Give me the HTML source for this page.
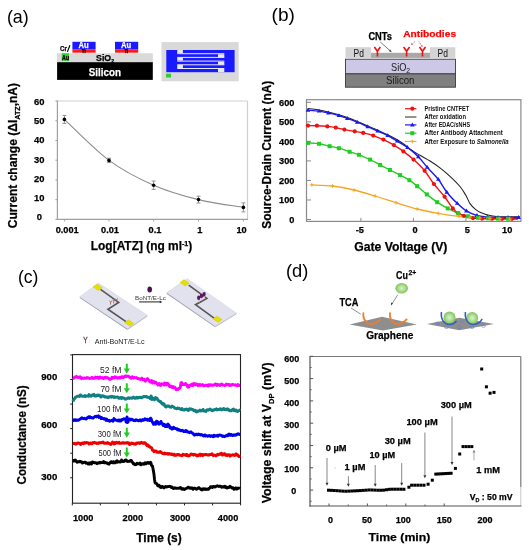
<!DOCTYPE html>
<html><head><meta charset="utf-8"><style>
html,body{margin:0;padding:0;background:#fff;width:529px;height:550px;overflow:hidden;}
svg{display:block;will-change:transform;font-family:"Liberation Sans", sans-serif;}
</style></head><body>
<svg width="529" height="550" viewBox="0 0 529 550" font-family='"Liberation Sans", sans-serif'><text x="6.9" y="23.3" font-size="18.5" fill="#000" text-anchor="start" textLength="21.9" lengthAdjust="spacingAndGlyphs" >(a)</text>
<text x="271.6" y="20.7" font-size="18.5" fill="#000" text-anchor="start" textLength="23.3" lengthAdjust="spacingAndGlyphs" >(b)</text>
<text x="17.9" y="283.4" font-size="18.5" fill="#000" text-anchor="start" textLength="20.5" lengthAdjust="spacingAndGlyphs" >(c)</text>
<text x="286.0" y="276.9" font-size="18.5" fill="#000" text-anchor="start" textLength="22.4" lengthAdjust="spacingAndGlyphs" >(d)</text>
<rect x="57.1" y="62.1" width="95.7" height="17.8" fill="#000" />
<rect x="57.1" y="53.3" width="95.7" height="8.8" fill="#d9d9d9" />
<rect x="61.8" y="53.3" width="7.2" height="7.5" fill="#33cc33" />
<rect x="72.4" y="41.8" width="23.2" height="7.4" fill="#1a1aff" />
<rect x="72.4" y="49.2" width="23.2" height="3.5" fill="#ff1a1a" />
<text x="78.4" y="47.9" font-size="8.2" font-weight="bold" stroke="#fff" stroke-width="0.25" fill="#fff" text-anchor="start" textLength="10.2" lengthAdjust="spacingAndGlyphs" >Au</text>
<text x="81.80000000000001" y="52.9" font-size="4.6" font-weight="bold" stroke="#000" stroke-width="0.25" fill="#000" text-anchor="start" textLength="3.8" lengthAdjust="spacingAndGlyphs" >Ti</text>
<rect x="115.0" y="41.8" width="23.2" height="7.4" fill="#1a1aff" />
<rect x="115.0" y="49.2" width="23.2" height="3.5" fill="#ff1a1a" />
<text x="121.0" y="47.9" font-size="8.2" font-weight="bold" stroke="#fff" stroke-width="0.25" fill="#fff" text-anchor="start" textLength="10.2" lengthAdjust="spacingAndGlyphs" >Au</text>
<text x="124.4" y="52.9" font-size="4.6" font-weight="bold" stroke="#000" stroke-width="0.25" fill="#000" text-anchor="start" textLength="3.8" lengthAdjust="spacingAndGlyphs" >Ti</text>
<text x="60.0" y="50.8" font-size="7.2" font-weight="bold" stroke="#000" stroke-width="0.25" fill="#000" text-anchor="start" textLength="6.9" lengthAdjust="spacingAndGlyphs" >Cr</text>
<line x1="69.9" y1="45.3" x2="67.4" y2="51.9" stroke="#000" stroke-width="1.15" />
<text x="62.1" y="60.0" font-size="7.0" font-weight="bold" stroke="#000" stroke-width="0.25" fill="#000" text-anchor="start" textLength="7.0" lengthAdjust="spacingAndGlyphs" >Au</text>
<text x="96.1" y="61.1" font-size="8.6" font-weight="bold" stroke="#000" stroke-width="0.25" fill="#000" text-anchor="start" textLength="15.0" lengthAdjust="spacingAndGlyphs" >SiO</text>
<text x="111.2" y="62.6" font-size="5.0" font-weight="bold" stroke="#000" stroke-width="0.25" fill="#000" text-anchor="start" >2</text>
<text x="88.7" y="75.6" font-size="11.0" font-weight="bold" stroke="#fff" stroke-width="0.25" fill="#fff" text-anchor="start" textLength="32.2" lengthAdjust="spacingAndGlyphs" >Silicon</text>
<rect x="161.5" y="42.1" width="77.2" height="39.2" fill="#d9d9d9" />
<rect x="166.3" y="50.0" width="68.3" height="22.2" fill="#1a1aff" />
<rect x="177.2" y="50.0" width="5.7" height="3.1999999999999997" fill="#e8e8e8" />
<rect x="177.2" y="53.2" width="47.1" height="1.0" fill="#e8e8f0" />
<rect x="218.0" y="54.2" width="6.3" height="3.1999999999999997" fill="#e8e8e8" />
<rect x="177.2" y="56.9" width="47.1" height="1.0" fill="#e8e8f0" />
<rect x="177.2" y="57.4" width="5.7" height="3.1999999999999997" fill="#e8e8e8" />
<rect x="177.2" y="60.6" width="47.1" height="1.0" fill="#e8e8f0" />
<rect x="218.0" y="61.6" width="6.3" height="3.1999999999999997" fill="#e8e8e8" />
<rect x="177.2" y="64.3" width="47.1" height="1.0" fill="#e8e8f0" />
<rect x="177.2" y="64.8" width="5.7" height="3.1999999999999997" fill="#e8e8e8" />
<rect x="177.2" y="68.0" width="47.1" height="1.0" fill="#e8e8f0" />
<rect x="218.0" y="69.0" width="6.3" height="3.1999999999999997" fill="#e8e8e8" />
<rect x="166.0" y="73.7" width="5.0" height="3.8" fill="#33cc33" />
<line x1="57.6" y1="101.0" x2="247.5" y2="101.0" stroke="#d0d0d0" stroke-width="1.2" />
<line x1="247.5" y1="101.0" x2="247.5" y2="219.4" stroke="#d0d0d0" stroke-width="1.2" />
<line x1="57.4" y1="100.4" x2="57.4" y2="220.0" stroke="#a0a0a0" stroke-width="1.2" />
<line x1="56.8" y1="219.4" x2="248.1" y2="219.4" stroke="#a0a0a0" stroke-width="1.2" />
<line x1="55.4" y1="219.4" x2="57.4" y2="219.4" stroke="#a0a0a0" stroke-width="1" />
<text x="39.3" y="220.20000000000002" font-size="9.4" font-weight="bold" stroke="#000" stroke-width="0.25" fill="#000" text-anchor="middle" >0</text>
<line x1="55.4" y1="199.67000000000002" x2="57.4" y2="199.67000000000002" stroke="#a0a0a0" stroke-width="1" />
<text x="39.3" y="201.00000000000003" font-size="9.4" font-weight="bold" stroke="#000" stroke-width="0.25" fill="#000" text-anchor="middle" >10</text>
<line x1="55.4" y1="179.94" x2="57.4" y2="179.94" stroke="#a0a0a0" stroke-width="1" />
<text x="39.3" y="181.8" font-size="9.4" font-weight="bold" stroke="#000" stroke-width="0.25" fill="#000" text-anchor="middle" >20</text>
<line x1="55.4" y1="160.21" x2="57.4" y2="160.21" stroke="#a0a0a0" stroke-width="1" />
<text x="39.3" y="162.60000000000002" font-size="9.4" font-weight="bold" stroke="#000" stroke-width="0.25" fill="#000" text-anchor="middle" >30</text>
<line x1="55.4" y1="140.48000000000002" x2="57.4" y2="140.48000000000002" stroke="#a0a0a0" stroke-width="1" />
<text x="39.3" y="143.40000000000003" font-size="9.4" font-weight="bold" stroke="#000" stroke-width="0.25" fill="#000" text-anchor="middle" >40</text>
<line x1="55.4" y1="120.75" x2="57.4" y2="120.75" stroke="#a0a0a0" stroke-width="1" />
<text x="39.3" y="124.2" font-size="9.4" font-weight="bold" stroke="#000" stroke-width="0.25" fill="#000" text-anchor="middle" >50</text>
<line x1="55.4" y1="101.02" x2="57.4" y2="101.02" stroke="#a0a0a0" stroke-width="1" />
<text x="39.3" y="105.00000000000001" font-size="9.4" font-weight="bold" stroke="#000" stroke-width="0.25" fill="#000" text-anchor="middle" >60</text>
<line x1="64.4" y1="219.4" x2="64.4" y2="221.4" stroke="#a0a0a0" stroke-width="1" />
<line x1="109.0" y1="219.4" x2="109.0" y2="221.4" stroke="#a0a0a0" stroke-width="1" />
<line x1="153.6" y1="219.4" x2="153.6" y2="221.4" stroke="#a0a0a0" stroke-width="1" />
<line x1="198.5" y1="219.4" x2="198.5" y2="221.4" stroke="#a0a0a0" stroke-width="1" />
<line x1="243.4" y1="219.4" x2="243.4" y2="221.4" stroke="#a0a0a0" stroke-width="1" />
<text x="67.2" y="233.0" font-size="9.2" font-weight="bold" stroke="#000" stroke-width="0.25" fill="#000" text-anchor="middle" >0.001</text>
<text x="110.0" y="233.0" font-size="9.2" font-weight="bold" stroke="#000" stroke-width="0.25" fill="#000" text-anchor="middle" >0.01</text>
<text x="155.0" y="233.0" font-size="9.2" font-weight="bold" stroke="#000" stroke-width="0.25" fill="#000" text-anchor="middle" >0.1</text>
<text x="199.9" y="233.0" font-size="9.2" font-weight="bold" stroke="#000" stroke-width="0.25" fill="#000" text-anchor="middle" >1</text>
<text x="241.5" y="233.0" font-size="9.2" font-weight="bold" stroke="#000" stroke-width="0.25" fill="#000" text-anchor="middle" >10</text>
<path d="M64.40,119.40 C71.83,126.23 94.13,149.43 109.00,160.40 C123.87,171.37 138.68,178.67 153.60,185.20 C168.52,191.73 183.53,195.90 198.50,199.60 C213.47,203.30 235.92,206.10 243.40,207.40" fill="none" stroke="#8c8c8c" stroke-width="1.1" />
<line x1="64.4" y1="115.4" x2="64.4" y2="123.4" stroke="#888" stroke-width="0.9" />
<line x1="62.400000000000006" y1="115.4" x2="66.4" y2="115.4" stroke="#888" stroke-width="0.9" />
<line x1="62.400000000000006" y1="123.4" x2="66.4" y2="123.4" stroke="#888" stroke-width="0.9" />
<circle cx="64.4" cy="119.4" r="1.8" fill="#000"/>
<line x1="109.0" y1="158.20000000000002" x2="109.0" y2="162.6" stroke="#888" stroke-width="0.9" />
<line x1="107.0" y1="158.20000000000002" x2="111.0" y2="158.20000000000002" stroke="#888" stroke-width="0.9" />
<line x1="107.0" y1="162.6" x2="111.0" y2="162.6" stroke="#888" stroke-width="0.9" />
<circle cx="109.0" cy="160.4" r="1.8" fill="#000"/>
<line x1="153.6" y1="181.0" x2="153.6" y2="189.39999999999998" stroke="#888" stroke-width="0.9" />
<line x1="151.6" y1="181.0" x2="155.6" y2="181.0" stroke="#888" stroke-width="0.9" />
<line x1="151.6" y1="189.39999999999998" x2="155.6" y2="189.39999999999998" stroke="#888" stroke-width="0.9" />
<circle cx="153.6" cy="185.2" r="1.8" fill="#000"/>
<line x1="198.5" y1="196.2" x2="198.5" y2="203.0" stroke="#888" stroke-width="0.9" />
<line x1="196.5" y1="196.2" x2="200.5" y2="196.2" stroke="#888" stroke-width="0.9" />
<line x1="196.5" y1="203.0" x2="200.5" y2="203.0" stroke="#888" stroke-width="0.9" />
<circle cx="198.5" cy="199.6" r="1.8" fill="#000"/>
<line x1="243.4" y1="202.9" x2="243.4" y2="211.9" stroke="#888" stroke-width="0.9" />
<line x1="241.4" y1="202.9" x2="245.4" y2="202.9" stroke="#888" stroke-width="0.9" />
<line x1="241.4" y1="211.9" x2="245.4" y2="211.9" stroke="#888" stroke-width="0.9" />
<circle cx="243.4" cy="207.4" r="1.8" fill="#000"/>
<text x="90.8" y="250.4" font-size="12.6" font-weight="bold" fill="#000" stroke="#000" stroke-width="0.25" textLength="101.5" lengthAdjust="spacingAndGlyphs">Log[ATZ] (ng ml<tspan dy="-4" font-size="7.5">-1</tspan><tspan dy="4">)</tspan></text>
<text transform="translate(17.2,228.2) rotate(-90)" font-size="12.6" font-weight="bold" fill="#000" stroke="#000" stroke-width="0.25" textLength="145.3" lengthAdjust="spacingAndGlyphs">Current change (ΔI<tspan dy="3" font-size="7.5">ATZ</tspan><tspan dy="-3">,nA)</tspan></text>
<rect x="345.5" y="59.2" width="110.0" height="14.7" fill="#cdc8e6" stroke="#3a3a3a" stroke-width="0.9"/>
<rect x="345.5" y="73.9" width="110.0" height="13.3" fill="#808080" stroke="#3a3a3a" stroke-width="0.9"/>
<rect x="345.5" y="47.2" width="25.5" height="10.7" fill="#d4d4d4" />
<rect x="430.0" y="47.2" width="25.3" height="10.7" fill="#d4d4d4" />
<rect x="371.0" y="52.8" width="59.0" height="5.1" fill="#a8a8a8" />
<text x="353.5" y="56.8" font-size="10.0" fill="#111" text-anchor="start" textLength="10.4" lengthAdjust="spacingAndGlyphs" >Pd</text>
<text x="437.5" y="56.8" font-size="10.0" fill="#111" text-anchor="start" textLength="10.4" lengthAdjust="spacingAndGlyphs" >Pd</text>
<text x="391.0" y="71.0" font-size="10.5" fill="#1a1a1a" text-anchor="start" textLength="15.4" lengthAdjust="spacingAndGlyphs" >SiO</text>
<text x="406.3" y="73.2" font-size="6.8" fill="#1a1a1a" text-anchor="start" >2</text>
<text x="386.1" y="84.0" font-size="10.4" fill="#1a1a1a" text-anchor="start" textLength="28.3" lengthAdjust="spacingAndGlyphs" >Silicon</text>
<text x="368.4" y="39.7" font-size="10.0" font-weight="bold" stroke="#000" stroke-width="0.25" fill="#000" text-anchor="start" textLength="23.6" lengthAdjust="spacingAndGlyphs" >CNTs</text>
<text x="403.2" y="37.3" font-size="9.6" font-weight="bold" stroke="#ff0000" stroke-width="0.25" fill="#ff0000" text-anchor="start" textLength="52.9" lengthAdjust="spacingAndGlyphs" >Antibodies</text>
<line x1="380.3" y1="42.0" x2="391.0" y2="51.5" stroke="#444" stroke-width="0.7" />
<polygon points="391.80,52.30 388.60,50.90 390.30,49.40" fill="#444" stroke="none" stroke-width="1" />
<path d="M374.4,47.0 L377.4,51.32 L380.4,47.0 M377.4,51.32 L377.4,56.6" fill="none" stroke="#ee1111" stroke-width="1.6" />
<path d="M403.6,47.0 L406.6,51.32 L409.6,47.0 M406.6,51.32 L406.6,56.6" fill="none" stroke="#ee1111" stroke-width="1.6" />
<path d="M419.5,47.0 L422.5,51.32 L425.5,47.0 M422.5,51.32 L422.5,56.6" fill="none" stroke="#ee1111" stroke-width="1.6" />
<line x1="414.8" y1="41.6" x2="412.2" y2="43.9" stroke="#ee3333" stroke-width="0.75" stroke-dasharray="1.2,0.7"/>
<polygon points="411.00,45.00 411.60,42.90 413.00,44.40" fill="#ee3333" stroke="none" stroke-width="1" />
<line x1="418.6" y1="41.4" x2="421.6" y2="45.6" stroke="#ee3333" stroke-width="0.75" stroke-dasharray="1.2,0.7"/>
<polygon points="422.60,47.00 420.70,45.90 422.20,44.90" fill="#ee3333" stroke="none" stroke-width="1" />
<rect x="306.5" y="99.7" width="214.39999999999998" height="121.7" fill="none" stroke="#8a8a8a" stroke-width="1.2"/>
<line x1="306.5" y1="219.5" x2="311.0" y2="219.5" stroke="#8a8a8a" stroke-width="1" />
<text x="294.4" y="222.8" font-size="9.2" font-weight="bold" stroke="#000" stroke-width="0.25" fill="#000" text-anchor="end" >0</text>
<line x1="306.5" y1="199.97" x2="311.0" y2="199.97" stroke="#8a8a8a" stroke-width="1" />
<text x="294.4" y="203.27" font-size="9.2" font-weight="bold" stroke="#000" stroke-width="0.25" fill="#000" text-anchor="end" >100</text>
<line x1="306.5" y1="180.44" x2="311.0" y2="180.44" stroke="#8a8a8a" stroke-width="1" />
<text x="294.4" y="183.74" font-size="9.2" font-weight="bold" stroke="#000" stroke-width="0.25" fill="#000" text-anchor="end" >200</text>
<line x1="306.5" y1="160.91" x2="311.0" y2="160.91" stroke="#8a8a8a" stroke-width="1" />
<text x="294.4" y="164.21" font-size="9.2" font-weight="bold" stroke="#000" stroke-width="0.25" fill="#000" text-anchor="end" >300</text>
<line x1="306.5" y1="141.38" x2="311.0" y2="141.38" stroke="#8a8a8a" stroke-width="1" />
<text x="294.4" y="144.68" font-size="9.2" font-weight="bold" stroke="#000" stroke-width="0.25" fill="#000" text-anchor="end" >400</text>
<line x1="306.5" y1="121.85" x2="311.0" y2="121.85" stroke="#8a8a8a" stroke-width="1" />
<text x="294.4" y="125.14999999999999" font-size="9.2" font-weight="bold" stroke="#000" stroke-width="0.25" fill="#000" text-anchor="end" >500</text>
<line x1="306.5" y1="102.32" x2="311.0" y2="102.32" stroke="#8a8a8a" stroke-width="1" />
<text x="294.4" y="105.61999999999999" font-size="9.2" font-weight="bold" stroke="#000" stroke-width="0.25" fill="#000" text-anchor="end" >600</text>
<line x1="360.9" y1="221.4" x2="360.9" y2="217.9" stroke="#8a8a8a" stroke-width="1" />
<line x1="413.4" y1="221.4" x2="413.4" y2="217.9" stroke="#8a8a8a" stroke-width="1" />
<line x1="465.9" y1="221.4" x2="465.9" y2="217.9" stroke="#8a8a8a" stroke-width="1" />
<text x="359.8" y="232.8" font-size="9.2" font-weight="bold" stroke="#000" stroke-width="0.25" fill="#000" text-anchor="middle" >-5</text>
<text x="415.0" y="232.8" font-size="9.2" font-weight="bold" stroke="#000" stroke-width="0.25" fill="#000" text-anchor="middle" >0</text>
<text x="467.2" y="232.8" font-size="9.2" font-weight="bold" stroke="#000" stroke-width="0.25" fill="#000" text-anchor="middle" >5</text>
<text x="507.2" y="232.8" font-size="9.2" font-weight="bold" stroke="#000" stroke-width="0.25" fill="#000" text-anchor="middle" >10</text>
<text x="354.2" y="250.8" font-size="12.2" font-weight="bold" stroke="#000" stroke-width="0.25" fill="#000" text-anchor="start" textLength="93.2" lengthAdjust="spacingAndGlyphs" >Gate Voltage (V)</text>
<text transform="translate(271.4,228.7) rotate(-90)" font-size="12.8" font-weight="bold" fill="#000" stroke="#000" stroke-width="0.25" textLength="148" lengthAdjust="spacingAndGlyphs">Source-Drain Current (nA)</text>
<path d="M311.80,184.90 C315.23,185.08 325.37,185.15 332.40,186.00 C339.43,186.85 346.90,188.33 354.00,190.00 C361.10,191.67 367.98,193.88 375.00,196.00 C382.02,198.12 389.07,200.53 396.10,202.70 C403.13,204.87 410.17,207.23 417.20,209.00 C424.23,210.77 431.33,212.08 438.30,213.30 C445.27,214.52 452.05,215.52 459.00,216.30 C465.95,217.08 473.17,217.58 480.00,218.00 C486.83,218.42 493.67,218.60 500.00,218.80 C506.33,219.00 515.00,219.13 518.00,219.20" fill="none" stroke="#f5a623" stroke-width="1.3" />
<path d="M308.00,142.90 C309.85,143.05 315.50,143.25 319.10,143.80 C322.70,144.35 326.30,145.47 329.60,146.20 C332.90,146.93 335.57,147.27 338.90,148.20 C342.23,149.13 346.25,150.70 349.60,151.80 C352.95,152.90 355.58,153.50 359.00,154.80 C362.42,156.10 366.58,157.92 370.10,159.60 C373.62,161.28 376.80,163.17 380.10,164.90 C383.40,166.63 386.57,168.30 389.90,170.00 C393.23,171.70 396.85,173.40 400.10,175.10 C403.35,176.80 406.55,178.35 409.40,180.20 C412.25,182.05 414.30,183.83 417.20,186.20 C420.10,188.57 423.47,191.73 426.80,194.40 C430.13,197.07 433.72,199.87 437.20,202.20 C440.68,204.53 444.18,206.55 447.70,208.40 C451.22,210.25 454.92,211.98 458.30,213.30 C461.68,214.62 464.38,215.52 468.00,216.30 C471.62,217.08 475.50,217.62 480.00,218.00 C484.50,218.38 488.67,218.47 495.00,218.60 C501.33,218.73 514.17,218.77 518.00,218.80" fill="none" stroke="#22cc22" stroke-width="1.4" />
<path d="M308.00,125.60 C309.48,125.62 313.68,125.57 316.90,125.70 C320.12,125.83 324.15,126.08 327.30,126.40 C330.45,126.72 332.95,127.07 335.80,127.60 C338.65,128.13 341.25,128.97 344.40,129.60 C347.55,130.23 351.57,130.85 354.70,131.40 C357.83,131.95 360.12,132.20 363.20,132.90 C366.28,133.60 369.83,134.48 373.20,135.60 C376.57,136.72 379.95,138.02 383.40,139.60 C386.85,141.18 390.57,143.13 393.90,145.10 C397.23,147.07 400.12,148.98 403.40,151.40 C406.68,153.82 410.07,156.38 413.60,159.60 C417.13,162.82 421.22,166.63 424.60,170.70 C427.98,174.77 430.57,179.67 433.90,184.00 C437.23,188.33 441.45,192.63 444.60,196.70 C447.75,200.77 450.52,205.63 452.80,208.40 C455.08,211.17 456.45,212.07 458.30,213.30 C460.15,214.53 461.95,215.05 463.90,215.80 C465.85,216.55 467.32,217.33 470.00,217.80 C472.68,218.27 475.00,218.43 480.00,218.60 C485.00,218.77 493.67,218.77 500.00,218.80 C506.33,218.83 515.00,218.80 518.00,218.80" fill="none" stroke="#ee1111" stroke-width="1.4" />
<path d="M308.00,108.60 C309.67,108.80 314.60,109.25 318.00,109.80 C321.40,110.35 324.92,111.07 328.40,111.90 C331.88,112.73 335.75,113.85 338.90,114.80 C342.05,115.75 344.25,116.50 347.30,117.60 C350.35,118.70 353.80,120.02 357.20,121.40 C360.60,122.78 364.28,124.42 367.70,125.90 C371.12,127.38 374.37,128.82 377.70,130.30 C381.03,131.78 384.45,133.22 387.70,134.80 C390.95,136.38 394.32,138.10 397.20,139.80 C400.08,141.50 402.87,143.43 405.00,145.00 C407.13,146.57 407.50,147.48 410.00,149.20 C412.50,150.92 416.67,153.33 420.00,155.30 C423.33,157.27 426.67,158.92 430.00,161.00 C433.33,163.08 436.67,165.25 440.00,167.80 C443.33,170.35 446.67,173.18 450.00,176.30 C453.33,179.42 457.33,183.28 460.00,186.50 C462.67,189.72 464.33,192.75 466.00,195.60 C467.67,198.45 468.50,201.38 470.00,203.60 C471.50,205.82 473.33,207.47 475.00,208.90 C476.67,210.33 477.50,211.08 480.00,212.20 C482.50,213.32 486.67,214.85 490.00,215.60 C493.33,216.35 495.00,216.50 500.00,216.70 C505.00,216.90 516.67,216.78 520.00,216.80" fill="none" stroke="#222" stroke-width="1.05" />
<path d="M308.00,110.20 C309.85,110.35 315.70,110.65 319.10,111.10 C322.50,111.55 325.10,112.15 328.40,112.90 C331.70,113.65 335.75,114.68 338.90,115.60 C342.05,116.52 344.25,117.30 347.30,118.40 C350.35,119.50 353.80,120.82 357.20,122.20 C360.60,123.58 364.28,125.22 367.70,126.70 C371.12,128.18 374.37,129.62 377.70,131.10 C381.03,132.58 384.45,133.93 387.70,135.60 C390.95,137.27 393.90,139.13 397.20,141.10 C400.50,143.07 403.98,144.80 407.50,147.40 C411.02,150.00 415.02,153.38 418.30,156.70 C421.58,160.02 423.87,163.53 427.20,167.30 C430.53,171.07 435.03,175.15 438.30,179.30 C441.57,183.45 443.65,188.20 446.80,192.20 C449.95,196.20 453.93,200.18 457.20,203.30 C460.47,206.42 463.10,208.87 466.40,210.90 C469.70,212.93 473.52,214.48 477.00,215.50 C480.48,216.52 483.80,216.68 487.30,217.00 C490.80,217.32 494.55,217.32 498.00,217.40 C501.45,217.48 504.57,217.48 508.00,217.50 C511.43,217.52 516.83,217.50 518.60,217.50" fill="none" stroke="#1a1aee" stroke-width="1.4" />
<circle cx="308.00" cy="125.60" r="2.1" fill="#ee1111"/>
<circle cx="316.90" cy="125.70" r="2.1" fill="#ee1111"/>
<circle cx="327.30" cy="126.40" r="2.1" fill="#ee1111"/>
<circle cx="335.80" cy="127.60" r="2.1" fill="#ee1111"/>
<circle cx="344.40" cy="129.60" r="2.1" fill="#ee1111"/>
<circle cx="354.70" cy="131.40" r="2.1" fill="#ee1111"/>
<circle cx="363.20" cy="132.90" r="2.1" fill="#ee1111"/>
<circle cx="373.20" cy="135.60" r="2.1" fill="#ee1111"/>
<circle cx="383.40" cy="139.60" r="2.1" fill="#ee1111"/>
<circle cx="393.90" cy="145.10" r="2.1" fill="#ee1111"/>
<circle cx="403.40" cy="151.40" r="2.1" fill="#ee1111"/>
<circle cx="413.60" cy="159.60" r="2.1" fill="#ee1111"/>
<circle cx="424.60" cy="170.70" r="2.1" fill="#ee1111"/>
<circle cx="433.90" cy="184.00" r="2.1" fill="#ee1111"/>
<circle cx="444.60" cy="196.70" r="2.1" fill="#ee1111"/>
<circle cx="452.80" cy="208.40" r="2.1" fill="#ee1111"/>
<circle cx="458.30" cy="213.30" r="2.1" fill="#ee1111"/>
<circle cx="463.90" cy="215.80" r="2.1" fill="#ee1111"/>
<circle cx="473.00" cy="218.04" r="2.1" fill="#ee1111"/>
<circle cx="482.00" cy="218.62" r="2.1" fill="#ee1111"/>
<circle cx="492.00" cy="218.72" r="2.1" fill="#ee1111"/>
<circle cx="502.00" cy="218.80" r="2.1" fill="#ee1111"/>
<circle cx="512.00" cy="218.80" r="2.1" fill="#ee1111"/>
<polygon points="308.00,107.80 305.70,111.70 310.30,111.70" fill="#1a1aee" stroke="none" stroke-width="1" />
<polygon points="319.10,108.70 316.80,112.60 321.40,112.60" fill="#1a1aee" stroke="none" stroke-width="1" />
<polygon points="328.40,110.50 326.10,114.40 330.70,114.40" fill="#1a1aee" stroke="none" stroke-width="1" />
<polygon points="338.90,113.20 336.60,117.10 341.20,117.10" fill="#1a1aee" stroke="none" stroke-width="1" />
<polygon points="347.30,116.00 345.00,119.90 349.60,119.90" fill="#1a1aee" stroke="none" stroke-width="1" />
<polygon points="357.20,119.80 354.90,123.70 359.50,123.70" fill="#1a1aee" stroke="none" stroke-width="1" />
<polygon points="367.70,124.30 365.40,128.20 370.00,128.20" fill="#1a1aee" stroke="none" stroke-width="1" />
<polygon points="377.70,128.70 375.40,132.60 380.00,132.60" fill="#1a1aee" stroke="none" stroke-width="1" />
<polygon points="387.70,133.20 385.40,137.10 390.00,137.10" fill="#1a1aee" stroke="none" stroke-width="1" />
<polygon points="397.20,138.70 394.90,142.60 399.50,142.60" fill="#1a1aee" stroke="none" stroke-width="1" />
<polygon points="407.50,145.00 405.20,148.90 409.80,148.90" fill="#1a1aee" stroke="none" stroke-width="1" />
<polygon points="418.30,154.30 416.00,158.20 420.60,158.20" fill="#1a1aee" stroke="none" stroke-width="1" />
<polygon points="427.20,164.90 424.90,168.80 429.50,168.80" fill="#1a1aee" stroke="none" stroke-width="1" />
<polygon points="438.30,176.90 436.00,180.80 440.60,180.80" fill="#1a1aee" stroke="none" stroke-width="1" />
<polygon points="446.80,189.80 444.50,193.70 449.10,193.70" fill="#1a1aee" stroke="none" stroke-width="1" />
<polygon points="457.20,200.90 454.90,204.80 459.50,204.80" fill="#1a1aee" stroke="none" stroke-width="1" />
<polygon points="466.40,208.50 464.10,212.40 468.70,212.40" fill="#1a1aee" stroke="none" stroke-width="1" />
<polygon points="477.00,213.10 474.70,217.00 479.30,217.00" fill="#1a1aee" stroke="none" stroke-width="1" />
<polygon points="487.30,214.60 485.00,218.50 489.60,218.50" fill="#1a1aee" stroke="none" stroke-width="1" />
<polygon points="498.00,215.00 495.70,218.90 500.30,218.90" fill="#1a1aee" stroke="none" stroke-width="1" />
<polygon points="508.00,215.10 505.70,219.00 510.30,219.00" fill="#1a1aee" stroke="none" stroke-width="1" />
<polygon points="518.60,215.10 516.30,219.00 520.90,219.00" fill="#1a1aee" stroke="none" stroke-width="1" />
<rect x="306.0" y="140.9" width="4" height="4" fill="#22cc22" />
<rect x="317.1" y="141.8" width="4" height="4" fill="#22cc22" />
<rect x="327.6" y="144.2" width="4" height="4" fill="#22cc22" />
<rect x="336.9" y="146.2" width="4" height="4" fill="#22cc22" />
<rect x="347.6" y="149.8" width="4" height="4" fill="#22cc22" />
<rect x="357.0" y="152.8" width="4" height="4" fill="#22cc22" />
<rect x="368.1" y="157.6" width="4" height="4" fill="#22cc22" />
<rect x="378.1" y="162.9" width="4" height="4" fill="#22cc22" />
<rect x="387.9" y="168.0" width="4" height="4" fill="#22cc22" />
<rect x="398.1" y="173.1" width="4" height="4" fill="#22cc22" />
<rect x="407.4" y="178.2" width="4" height="4" fill="#22cc22" />
<rect x="415.2" y="184.2" width="4" height="4" fill="#22cc22" />
<rect x="424.8" y="192.4" width="4" height="4" fill="#22cc22" />
<rect x="435.2" y="200.2" width="4" height="4" fill="#22cc22" />
<rect x="445.7" y="206.4" width="4" height="4" fill="#22cc22" />
<rect x="456.3" y="211.3" width="4" height="4" fill="#22cc22" />
<rect x="466" y="214.3" width="4" height="4" fill="#22cc22" />
<rect x="476" y="215.72" width="4" height="4" fill="#22cc22" />
<rect x="486" y="216.32" width="4" height="4" fill="#22cc22" />
<rect x="496" y="216.63" width="4" height="4" fill="#22cc22" />
<rect x="506" y="216.71" width="4" height="4" fill="#22cc22" />
<line x1="310.0" y1="184.9" x2="313.6" y2="184.9" stroke="#f5a623" stroke-width="1" />
<line x1="311.8" y1="183.1" x2="311.8" y2="186.70000000000002" stroke="#f5a623" stroke-width="1" />
<line x1="330.59999999999997" y1="186.0" x2="334.2" y2="186.0" stroke="#f5a623" stroke-width="1" />
<line x1="332.4" y1="184.2" x2="332.4" y2="187.8" stroke="#f5a623" stroke-width="1" />
<line x1="352.2" y1="190.0" x2="355.8" y2="190.0" stroke="#f5a623" stroke-width="1" />
<line x1="354.0" y1="188.2" x2="354.0" y2="191.8" stroke="#f5a623" stroke-width="1" />
<line x1="373.2" y1="196.0" x2="376.8" y2="196.0" stroke="#f5a623" stroke-width="1" />
<line x1="375.0" y1="194.2" x2="375.0" y2="197.8" stroke="#f5a623" stroke-width="1" />
<line x1="394.3" y1="202.7" x2="397.90000000000003" y2="202.7" stroke="#f5a623" stroke-width="1" />
<line x1="396.1" y1="200.89999999999998" x2="396.1" y2="204.5" stroke="#f5a623" stroke-width="1" />
<line x1="415.4" y1="209.0" x2="419.0" y2="209.0" stroke="#f5a623" stroke-width="1" />
<line x1="417.2" y1="207.2" x2="417.2" y2="210.8" stroke="#f5a623" stroke-width="1" />
<line x1="436.5" y1="213.3" x2="440.1" y2="213.3" stroke="#f5a623" stroke-width="1" />
<line x1="438.3" y1="211.5" x2="438.3" y2="215.10000000000002" stroke="#f5a623" stroke-width="1" />
<line x1="457.2" y1="216.3" x2="460.8" y2="216.3" stroke="#f5a623" stroke-width="1" />
<line x1="459" y1="214.5" x2="459" y2="218.10000000000002" stroke="#f5a623" stroke-width="1" />
<line x1="468.2" y1="217.1904761904762" x2="471.8" y2="217.1904761904762" stroke="#f5a623" stroke-width="1" />
<line x1="470" y1="215.3904761904762" x2="470" y2="218.99047619047622" stroke="#f5a623" stroke-width="1" />
<line x1="478.2" y1="218.0" x2="481.8" y2="218.0" stroke="#f5a623" stroke-width="1" />
<line x1="480" y1="216.2" x2="480" y2="219.8" stroke="#f5a623" stroke-width="1" />
<line x1="488.2" y1="218.4" x2="491.8" y2="218.4" stroke="#f5a623" stroke-width="1" />
<line x1="490" y1="216.6" x2="490" y2="220.20000000000002" stroke="#f5a623" stroke-width="1" />
<line x1="498.2" y1="218.8" x2="501.8" y2="218.8" stroke="#f5a623" stroke-width="1" />
<line x1="500" y1="217.0" x2="500" y2="220.60000000000002" stroke="#f5a623" stroke-width="1" />
<line x1="508.2" y1="219.0222222222222" x2="511.8" y2="219.0222222222222" stroke="#f5a623" stroke-width="1" />
<line x1="510" y1="217.2222222222222" x2="510" y2="220.82222222222222" stroke="#f5a623" stroke-width="1" />
<line x1="405.0" y1="108.7" x2="416.4" y2="108.7" stroke="#ee1111" stroke-width="1.2" />
<circle cx="412.30" cy="108.70" r="2.1" fill="#ee1111"/>
<line x1="405.0" y1="117.0" x2="416.4" y2="117.0" stroke="#111" stroke-width="0.9" />
<line x1="405.0" y1="124.9" x2="416.4" y2="124.9" stroke="#1a1aee" stroke-width="1.2" />
<polygon points="412.30,122.50 410.00,126.40 414.60,126.40" fill="#1a1aee" stroke="none" stroke-width="1" />
<line x1="405.0" y1="133.2" x2="416.4" y2="133.2" stroke="#22cc22" stroke-width="1.2" />
<rect x="410.3" y="131.2" width="4" height="4" fill="#22cc22" />
<line x1="405.0" y1="141.4" x2="416.4" y2="141.4" stroke="#f5a623" stroke-width="1.1" />
<line x1="410.5" y1="141.4" x2="414.1" y2="141.4" stroke="#f5a623" stroke-width="1" />
<line x1="412.3" y1="139.6" x2="412.3" y2="143.20000000000002" stroke="#f5a623" stroke-width="1" />
<text x="424.5" y="110.9" font-size="6.4" font-weight="bold" fill="#111" text-anchor="start" textLength="44.7" lengthAdjust="spacingAndGlyphs" stroke="none">Pristine CNTFET</text>
<text x="424.5" y="119.2" font-size="6.4" font-weight="bold" fill="#111" text-anchor="start" textLength="41.5" lengthAdjust="spacingAndGlyphs" stroke="none">After oxidation</text>
<text x="424.5" y="127.10000000000001" font-size="6.4" font-weight="bold" fill="#111" text-anchor="start" textLength="45.5" lengthAdjust="spacingAndGlyphs" stroke="none">After EDAC/sNHS</text>
<text x="424.5" y="135.39999999999998" font-size="6.4" font-weight="bold" fill="#111" text-anchor="start" textLength="78.3" lengthAdjust="spacingAndGlyphs" stroke="none">After Antibody Attachment</text>
<text x="424.5" y="143.6" font-size="6.4" font-weight="bold" fill="#111" text-anchor="start" textLength="84.2" lengthAdjust="spacingAndGlyphs" stroke="none">After Exposure to <tspan font-style="italic">Salmonella</tspan></text>
<polygon points="79.80,296.70 127.50,328.60 127.50,330.00 79.80,298.10" fill="#a2a2b4" stroke="none" stroke-width="1" />
<polygon points="127.50,328.60 147.30,315.30 147.30,316.50 127.50,330.00" fill="#b8b8c8" stroke="none" stroke-width="1" />
<polygon points="79.80,296.70 98.40,283.10 147.30,315.30 127.50,328.60" fill="#e1e2ee" stroke="#c8c8d8" stroke-width="0.4" />
<polyline points="100.50,289.30 118.70,302.40 107.90,309.20 126.00,321.70" fill="none" stroke="#555" stroke-width="1.6" stroke-linejoin="miter"/>
<polygon points="93.10,286.90 97.10,284.10 102.30,287.70 98.30,290.50" fill="#e6e000" stroke="#c9c200" stroke-width="0.4" />
<polygon points="124.60,322.60 128.60,319.80 133.80,323.40 129.80,326.20" fill="#e6e000" stroke="#c9c200" stroke-width="0.4" />
<polygon points="166.80,292.60 215.20,325.90 215.20,327.30 166.80,294.00" fill="#a2a2b4" stroke="none" stroke-width="1" />
<polygon points="215.20,325.90 236.40,313.00 236.40,314.20 215.20,327.30" fill="#b8b8c8" stroke="none" stroke-width="1" />
<polygon points="166.80,292.60 187.20,278.70 236.40,313.00 215.20,325.90" fill="#e1e2ee" stroke="#c8c8d8" stroke-width="0.4" />
<polyline points="188.70,285.10 206.90,298.40 195.50,304.70 214.40,318.30" fill="none" stroke="#555" stroke-width="1.6" stroke-linejoin="miter"/>
<polygon points="180.00,282.40 184.00,279.60 189.20,283.20 185.20,286.00" fill="#e6e000" stroke="#c9c200" stroke-width="0.4" />
<polygon points="212.90,318.80 216.90,316.00 222.10,319.60 218.10,322.40" fill="#e6e000" stroke="#c9c200" stroke-width="0.4" />
<path d="M109.5,300.6 L110.6,302.6 L111.69999999999999,300.6 M110.6,302.6 L110.6,304.6" fill="none" stroke="#8a5a5a" stroke-width="0.8" />
<circle cx="109.6" cy="301.0" r="0.6" fill="#e8c8c8"/>
<path d="M112.60000000000001,299.4 L113.7,301.4 L114.8,299.4 M113.7,301.4 L113.7,303.4" fill="none" stroke="#8a5a5a" stroke-width="0.8" />
<circle cx="112.7" cy="299.79999999999995" r="0.6" fill="#e8c8c8"/>
<path d="M115.4,298.4 L116.5,300.4 L117.6,298.4 M116.5,300.4 L116.5,302.4" fill="none" stroke="#8a5a5a" stroke-width="0.8" />
<circle cx="115.5" cy="298.79999999999995" r="0.6" fill="#e8c8c8"/>
<line x1="198.89999999999998" y1="299.3" x2="199.29999999999998" y2="302.40000000000003" stroke="#d0b0b8" stroke-width="1.0" />
<ellipse cx="198.7" cy="297.8" rx="1.65" ry="2.2" fill="#5e1462"/>
<line x1="201.6" y1="297.4" x2="202.0" y2="300.5" stroke="#d0b0b8" stroke-width="1.0" />
<ellipse cx="201.4" cy="295.9" rx="1.65" ry="2.2" fill="#5e1462"/>
<line x1="204.29999999999998" y1="295.6" x2="204.7" y2="298.70000000000005" stroke="#d0b0b8" stroke-width="1.0" />
<ellipse cx="204.1" cy="294.1" rx="1.65" ry="2.2" fill="#5e1462"/>
<ellipse cx="149.7" cy="289.6" rx="2.3" ry="3.0" fill="#4a1050"/>
<text x="135.0" y="299.9" font-size="6.2" fill="#3a3a3a" text-anchor="start" textLength="30.8" lengthAdjust="spacingAndGlyphs" >BoNT/E-Lc</text>
<line x1="139.1" y1="301.9" x2="160.6" y2="301.9" stroke="#444" stroke-width="1.2" />
<polygon points="162.20,301.90 159.80,300.50 159.80,303.30" fill="#222" stroke="none" stroke-width="1" />
<text x="83.3" y="343.4" font-size="9.4" fill="#6b2a4a" text-anchor="start" textLength="4.4" lengthAdjust="spacingAndGlyphs" stroke="#6b2a4a" stroke-width="0.3">Y</text>
<text x="88.6" y="343.0" font-size="6.0" fill="#aaa" text-anchor="start" >:</text>
<text x="94.8" y="344.4" font-size="7.6" fill="#222" text-anchor="start" textLength="49.9" lengthAdjust="spacingAndGlyphs" >Anti-BoNT/E-Lc</text>
<rect x="72.5" y="354.6" width="168.0" height="148.59999999999997" fill="none" stroke="#222" stroke-width="1.1"/>
<line x1="70.2" y1="477.78" x2="72.5" y2="477.78" stroke="#222" stroke-width="1" />
<line x1="70.2" y1="453.21" x2="72.5" y2="453.21" stroke="#222" stroke-width="1" />
<line x1="70.2" y1="428.64" x2="72.5" y2="428.64" stroke="#222" stroke-width="1" />
<line x1="70.2" y1="404.07" x2="72.5" y2="404.07" stroke="#222" stroke-width="1" />
<line x1="70.2" y1="379.5" x2="72.5" y2="379.5" stroke="#222" stroke-width="1" />
<line x1="70.2" y1="354.93" x2="72.5" y2="354.93" stroke="#222" stroke-width="1" />
<text x="57.3" y="379.9" font-size="9.6" font-weight="bold" stroke="#000" stroke-width="0.25" fill="#000" text-anchor="end" >900</text>
<text x="57.3" y="428.1" font-size="9.6" font-weight="bold" stroke="#000" stroke-width="0.25" fill="#000" text-anchor="end" >600</text>
<text x="57.3" y="479.5" font-size="9.6" font-weight="bold" stroke="#000" stroke-width="0.25" fill="#000" text-anchor="end" >300</text>
<line x1="72.3" y1="503.2" x2="72.3" y2="505.4" stroke="#222" stroke-width="1" />
<line x1="100.35" y1="503.2" x2="100.35" y2="505.4" stroke="#222" stroke-width="1" />
<line x1="128.39999999999998" y1="503.2" x2="128.39999999999998" y2="505.4" stroke="#222" stroke-width="1" />
<line x1="156.45" y1="503.2" x2="156.45" y2="505.4" stroke="#222" stroke-width="1" />
<line x1="184.5" y1="503.2" x2="184.5" y2="505.4" stroke="#222" stroke-width="1" />
<line x1="212.55" y1="503.2" x2="212.55" y2="505.4" stroke="#222" stroke-width="1" />
<line x1="240.59999999999997" y1="503.2" x2="240.59999999999997" y2="505.4" stroke="#222" stroke-width="1" />
<text x="83.2" y="520.9" font-size="9.2" font-weight="bold" stroke="#000" stroke-width="0.25" fill="#000" text-anchor="middle" >1000</text>
<text x="132.8" y="520.9" font-size="9.2" font-weight="bold" stroke="#000" stroke-width="0.25" fill="#000" text-anchor="middle" >2000</text>
<text x="180.2" y="520.9" font-size="9.2" font-weight="bold" stroke="#000" stroke-width="0.25" fill="#000" text-anchor="middle" >3000</text>
<text x="228.1" y="520.9" font-size="9.2" font-weight="bold" stroke="#000" stroke-width="0.25" fill="#000" text-anchor="middle" >4000</text>
<text x="136.3" y="541.9" font-size="11.9" font-weight="bold" stroke="#000" stroke-width="0.25" fill="#000" text-anchor="start" textLength="45.4" lengthAdjust="spacingAndGlyphs" >Time (s)</text>
<text transform="translate(26.0,484.4) rotate(-90)" font-size="12.4" font-weight="bold" fill="#000" stroke="#000" stroke-width="0.25" textLength="99" lengthAdjust="spacingAndGlyphs">Conductance (nS)</text>
<polyline points="73.00,377.88 73.50,378.31 74.00,377.96 74.50,377.38 75.00,376.89 75.50,377.10 76.00,376.77 76.50,376.38 77.00,376.90 77.50,377.18 78.00,377.54 78.50,377.11 79.00,377.27 79.50,377.34 80.00,376.73 80.50,377.30 81.00,377.55 81.50,378.63 82.00,378.31 82.50,377.96 83.00,378.38 83.50,378.17 84.00,378.37 84.50,377.92 85.00,377.92 85.50,378.29 86.00,378.37 86.50,378.17 87.00,377.51 87.50,377.80 88.00,377.82 88.50,378.13 89.00,378.09 89.50,378.47 90.00,378.19 90.50,378.11 91.00,378.27 91.50,377.58 92.00,377.46 92.50,377.35 93.00,378.39 93.50,378.08 94.00,378.22 94.50,378.29 95.00,377.92 95.50,377.13 96.00,377.78 96.50,377.54 97.00,377.91 97.50,377.21 98.00,377.18 98.50,377.92 99.00,378.44 99.50,377.51 100.00,376.94 100.50,377.24 101.00,377.78 101.50,377.87 102.00,378.01 102.50,377.53 103.00,377.97 103.50,378.50 104.00,378.13 104.50,377.48 105.00,377.42 105.50,378.08 106.00,377.38 106.50,377.72 107.00,377.53 107.50,377.83 108.00,377.98 108.50,378.20 109.00,379.03 109.50,379.06 110.00,379.50 110.50,379.04 111.00,378.59 111.50,378.69 112.00,377.29 112.50,377.69 113.00,378.01 113.50,377.55 114.00,378.03 114.50,377.84 115.00,376.85 115.50,377.26 116.00,377.14 116.50,377.26 117.00,377.48 117.50,378.23 118.00,378.14 118.50,378.02 119.00,378.11 119.50,377.16 120.00,377.95 120.50,377.29 121.00,377.53 121.50,376.92 122.00,376.58 122.50,376.58 123.00,377.57 123.50,377.58 124.00,376.95 124.50,376.67 125.00,376.07 125.50,376.16 126.00,375.93 126.50,376.56 127.00,376.04 127.50,376.24 128.00,376.17 128.50,376.23 129.00,376.96 129.50,377.17 130.00,377.55 130.50,378.01 131.00,378.27 131.50,377.30 132.00,377.59 132.50,376.73 133.00,376.99 133.50,378.05 134.00,377.74 134.50,377.48 135.00,377.58 135.50,377.65 136.00,377.74 136.50,377.48 137.00,378.19 137.50,378.57 138.00,378.34 138.50,378.48 139.00,378.76 139.50,379.14 140.00,379.21 140.50,379.51 141.00,379.05 141.50,378.26 142.00,378.22 142.50,379.30 143.00,379.96 143.50,379.81 144.00,379.25 144.50,379.56 145.00,380.73 145.50,381.25 146.00,380.17 146.50,380.00 147.00,378.95 147.50,378.57 148.00,379.31 148.50,379.67 149.00,380.58 149.50,381.37 150.00,381.58 150.50,382.16 151.00,381.27 151.50,380.40 152.00,381.08 152.50,383.09 153.00,382.73 153.50,381.53 154.00,381.85 154.50,382.94 155.00,381.94 155.50,382.71 156.00,382.25 156.50,383.36 157.00,383.76 157.50,383.74 158.00,384.98 158.50,384.12 159.00,383.47 159.50,384.94 160.00,383.98 160.50,385.49 161.00,384.85 161.50,383.78 162.00,383.89 162.50,384.06 163.00,384.23 163.50,384.07 164.00,384.89 164.50,383.01 165.00,383.14 165.50,383.44 166.00,385.10 166.50,383.44 167.00,383.67 167.50,383.35 168.00,383.57 168.50,384.68 169.00,385.25 169.50,386.38 170.00,385.69 170.50,385.96 171.00,386.82 171.50,387.20 172.00,386.62 172.50,387.35 173.00,386.42 173.50,387.82 174.00,387.57 174.50,387.29 175.00,387.46 175.50,388.29 176.00,389.58 176.50,389.24 177.00,389.10 177.50,389.61 178.00,389.43 178.50,388.41 179.00,388.64 179.50,388.04 180.00,388.16 180.50,386.16 181.00,382.68 181.50,382.42 182.00,383.04 182.50,384.50 183.00,384.59 183.50,384.49 184.00,384.65 184.50,384.04 185.00,384.02 185.50,383.42 186.00,384.66 186.50,384.61 187.00,385.05 187.50,386.38 188.00,387.16 188.50,385.67 189.00,386.85 189.50,385.44 190.00,385.49 190.50,385.43 191.00,384.67 191.50,384.35 192.00,385.56 192.50,385.66 193.00,385.44 193.50,383.66 194.00,383.45 194.50,384.81 195.00,384.95 195.50,384.10 196.00,383.83 196.50,383.93 197.00,384.73 197.50,385.00 198.00,385.62 198.50,384.63 199.00,385.40 199.50,384.74 200.00,384.51 200.50,385.37 201.00,385.15 201.50,384.93 202.00,384.76 202.50,384.59 203.00,385.37 203.50,385.75 204.00,385.69 204.50,385.42 205.00,385.65 205.50,385.25 206.00,385.25 206.50,385.21 207.00,385.04 207.50,385.64 208.00,386.03 208.50,386.07 209.00,384.62 209.50,385.44 210.00,385.41 210.50,384.86 211.00,384.72 211.50,385.15 212.00,385.41 212.50,385.42 213.00,385.10 213.50,384.85 214.00,385.05 214.50,384.74 215.00,384.19 215.50,384.01 216.00,384.12 216.50,384.41 217.00,385.45 217.50,384.45 218.00,384.68 218.50,384.57 219.00,384.69 219.50,385.24 220.00,385.52 220.50,385.07 221.00,384.62 221.50,384.00 222.00,384.21 222.50,384.93 223.00,384.69 223.50,384.99 224.00,385.18 224.50,385.15 225.00,385.46 225.50,385.10 226.00,384.57 226.50,384.11 227.00,384.78 227.50,384.60 228.00,384.53 228.50,385.01 229.00,384.57 229.50,385.46 230.00,385.50 230.50,384.99 231.00,384.65 231.50,385.21 232.00,384.54 232.50,384.38 233.00,384.58 233.50,384.79 234.00,384.84 234.50,385.04 235.00,384.83 235.50,384.81 236.00,385.43 236.50,385.53 237.00,385.10 237.50,385.82 238.00,384.58 238.50,384.78 239.00,385.17 239.50,385.54 240.00,385.38" fill="none" stroke="#ff00ff" stroke-width="2.9" stroke-linejoin="round"/>
<polyline points="73.00,401.55 73.50,400.11 74.00,399.43 74.50,398.62 75.00,398.15 75.50,397.20 76.00,397.03 76.50,396.74 77.00,396.38 77.50,396.23 78.00,396.25 78.50,396.32 79.00,396.04 79.50,396.44 80.00,396.20 80.50,394.89 81.00,396.07 81.50,396.06 82.00,395.88 82.50,396.22 83.00,396.40 83.50,396.41 84.00,396.00 84.50,396.21 85.00,395.55 85.50,396.49 86.00,395.82 86.50,395.88 87.00,396.01 87.50,396.17 88.00,396.04 88.50,396.29 89.00,394.57 89.50,395.06 90.00,395.31 90.50,395.34 91.00,396.22 91.50,395.61 92.00,395.64 92.50,394.77 93.00,395.27 93.50,394.71 94.00,394.38 94.50,395.95 95.00,396.13 95.50,396.01 96.00,396.04 96.50,395.36 97.00,395.15 97.50,395.73 98.00,394.94 98.50,395.59 99.00,395.09 99.50,395.66 100.00,395.47 100.50,396.66 101.00,397.06 101.50,396.61 102.00,395.73 102.50,395.73 103.00,396.07 103.50,395.87 104.00,396.34 104.50,396.97 105.00,396.88 105.50,396.67 106.00,397.12 106.50,396.91 107.00,397.32 107.50,397.05 108.00,397.79 108.50,397.38 109.00,396.80 109.50,396.99 110.00,396.79 110.50,396.51 111.00,396.72 111.50,397.24 112.00,396.23 112.50,396.59 113.00,396.76 113.50,396.87 114.00,397.37 114.50,396.71 115.00,397.21 115.50,397.11 116.00,397.21 116.50,397.12 117.00,397.02 117.50,396.87 118.00,397.21 118.50,398.19 119.00,398.30 119.50,398.28 120.00,398.14 120.50,397.59 121.00,397.76 121.50,398.54 122.00,397.49 122.50,397.82 123.00,398.12 123.50,397.97 124.00,398.11 124.50,398.48 125.00,399.09 125.50,399.05 126.00,399.19 126.50,398.67 127.00,398.60 127.50,398.27 128.00,398.13 128.50,397.70 129.00,397.98 129.50,398.50 130.00,398.09 130.50,398.03 131.00,398.16 131.50,397.97 132.00,398.28 132.50,398.15 133.00,397.43 133.50,397.06 134.00,397.65 134.50,397.96 135.00,398.36 135.50,398.21 136.00,398.11 136.50,397.24 137.00,398.07 137.50,397.52 138.00,398.08 138.50,397.43 139.00,397.26 139.50,397.53 140.00,397.43 140.50,397.14 141.00,397.64 141.50,397.80 142.00,397.72 142.50,397.30 143.00,396.78 143.50,396.59 144.00,396.40 144.50,396.48 145.00,396.84 145.50,396.76 146.00,396.45 146.50,396.37 147.00,397.20 147.50,397.22 148.00,397.29 148.50,397.38 149.00,397.60 149.50,397.55 150.00,398.42 150.50,398.73 151.00,396.03 151.50,396.63 152.00,399.52 152.50,397.89 153.00,398.10 153.50,399.04 154.00,398.78 154.50,399.74 155.00,398.28 155.50,397.46 156.00,398.06 156.50,398.16 157.00,398.10 157.50,399.52 158.00,400.29 158.50,400.68 159.00,400.73 159.50,401.44 160.00,401.71 160.50,401.50 161.00,402.50 161.50,403.13 162.00,403.41 162.50,404.21 163.00,403.38 163.50,403.79 164.00,403.86 164.50,405.53 165.00,406.01 165.50,406.81 166.00,407.11 166.50,406.49 167.00,405.85 167.50,406.25 168.00,406.21 168.50,406.31 169.00,406.04 169.50,406.69 170.00,406.96 170.50,407.20 171.00,407.34 171.50,406.91 172.00,406.09 172.50,406.51 173.00,406.64 173.50,406.79 174.00,407.59 174.50,407.63 175.00,408.41 175.50,408.31 176.00,408.51 176.50,408.59 177.00,408.80 177.50,408.04 178.00,408.67 178.50,408.64 179.00,408.17 179.50,408.63 180.00,408.83 180.50,409.37 181.00,409.47 181.50,409.38 182.00,408.46 182.50,409.41 183.00,409.92 183.50,409.93 184.00,409.81 184.50,410.11 185.00,409.37 185.50,409.65 186.00,409.54 186.50,409.03 187.00,409.36 187.50,409.58 188.00,410.34 188.50,410.48 189.00,409.43 189.50,408.67 190.00,409.08 190.50,409.36 191.00,409.25 191.50,409.00 192.00,409.47 192.50,409.36 193.00,409.56 193.50,410.43 194.00,410.72 194.50,410.50 195.00,410.25 195.50,410.57 196.00,411.68 196.50,411.20 197.00,411.89 197.50,411.15 198.00,410.94 198.50,411.19 199.00,410.66 199.50,410.69 200.00,410.05 200.50,410.57 201.00,411.08 201.50,410.57 202.00,410.61 202.50,410.36 203.00,409.40 203.50,411.02 204.00,411.02 204.50,411.10 205.00,410.93 205.50,410.71 206.00,411.56 206.50,410.16 207.00,409.99 207.50,409.82 208.00,409.80 208.50,410.17 209.00,409.75 209.50,409.20 210.00,408.95 210.50,409.49 211.00,410.03 211.50,410.27 212.00,410.75 212.50,410.07 213.00,410.33 213.50,410.33 214.00,409.93 214.50,409.41 215.00,409.81 215.50,409.34 216.00,409.21 216.50,408.86 217.00,409.89 217.50,409.71 218.00,409.41 218.50,409.36 219.00,409.35 219.50,409.49 220.00,408.78 220.50,408.61 221.00,409.27 221.50,409.93 222.00,409.40 222.50,409.59 223.00,409.41 223.50,408.55 224.00,408.92 224.50,408.81 225.00,409.64 225.50,409.65 226.00,409.75 226.50,409.18 227.00,409.57 227.50,408.87 228.00,409.44 228.50,410.31 229.00,409.68 229.50,410.24 230.00,410.84 230.50,410.49 231.00,410.89 231.50,410.68 232.00,410.30 232.50,409.41 233.00,409.31 233.50,409.08 234.00,410.69 234.50,410.72 235.00,410.56 235.50,409.94 236.00,410.97 236.50,410.30 237.00,411.11 237.50,411.43 238.00,411.17 238.50,410.70 239.00,410.71 239.50,410.16 240.00,410.73" fill="none" stroke="#108080" stroke-width="2.9" stroke-linejoin="round"/>
<polyline points="73.00,419.94 73.50,420.45 74.00,419.76 74.50,420.19 75.00,419.88 75.50,419.67 76.00,420.51 76.50,420.21 77.00,419.92 77.50,420.08 78.00,420.34 78.50,419.97 79.00,420.00 79.50,419.31 80.00,419.15 80.50,419.00 81.00,418.50 81.50,418.10 82.00,417.80 82.50,418.22 83.00,418.49 83.50,418.57 84.00,418.78 84.50,418.26 85.00,418.50 85.50,418.71 86.00,419.03 86.50,418.47 87.00,418.29 87.50,417.42 88.00,417.54 88.50,416.81 89.00,416.68 89.50,417.70 90.00,416.79 90.50,417.56 91.00,417.76 91.50,417.56 92.00,417.75 92.50,417.86 93.00,418.12 93.50,417.66 94.00,417.18 94.50,416.85 95.00,416.45 95.50,416.59 96.00,416.30 96.50,416.92 97.00,416.18 97.50,416.14 98.00,416.23 98.50,415.83 99.00,417.45 99.50,416.54 100.00,417.00 100.50,417.23 101.00,418.41 101.50,417.53 102.00,418.44 102.50,418.23 103.00,418.43 103.50,418.37 104.00,418.98 104.50,418.60 105.00,418.91 105.50,419.35 106.00,420.34 106.50,419.08 107.00,420.15 107.50,420.59 108.00,420.27 108.50,420.49 109.00,420.33 109.50,421.24 110.00,421.10 110.50,420.78 111.00,420.58 111.50,420.46 112.00,420.39 112.50,420.03 113.00,421.12 113.50,419.99 114.00,418.54 114.50,419.23 115.00,419.62 115.50,420.09 116.00,420.10 116.50,420.12 117.00,420.35 117.50,420.76 118.00,420.36 118.50,420.12 119.00,420.99 119.50,420.86 120.00,420.08 120.50,421.08 121.00,420.97 121.50,420.26 122.00,419.56 122.50,419.78 123.00,419.38 123.50,419.02 124.00,418.67 124.50,418.80 125.00,419.59 125.50,419.34 126.00,421.72 126.50,422.28 127.00,416.85 127.50,422.63 128.00,422.09 128.50,419.58 129.00,419.12 129.50,418.91 130.00,419.81 130.50,420.01 131.00,419.24 131.50,419.61 132.00,419.27 132.50,420.08 133.00,420.00 133.50,419.88 134.00,420.55 134.50,420.59 135.00,420.71 135.50,420.41 136.00,419.75 136.50,420.12 137.00,420.02 137.50,420.56 138.00,420.35 138.50,420.81 139.00,420.40 139.50,420.28 140.00,419.89 140.50,420.55 141.00,420.92 141.50,420.60 142.00,420.21 142.50,419.57 143.00,419.64 143.50,420.28 144.00,419.82 144.50,419.75 145.00,418.71 145.50,419.22 146.00,419.62 146.50,419.83 147.00,419.33 147.50,420.25 148.00,419.29 148.50,419.92 149.00,420.20 149.50,420.58 150.00,419.28 150.50,418.19 151.00,418.64 151.50,419.89 152.00,421.41 152.50,422.37 153.00,422.85 153.50,424.26 154.00,423.85 154.50,422.81 155.00,422.50 155.50,424.32 156.00,422.49 156.50,421.14 157.00,421.45 157.50,422.39 158.00,422.06 158.50,424.05 159.00,423.42 159.50,424.09 160.00,422.69 160.50,423.36 161.00,421.40 161.50,423.37 162.00,423.44 162.50,423.55 163.00,425.51 163.50,424.08 164.00,425.05 164.50,424.52 165.00,426.52 165.50,424.95 166.00,425.08 166.50,426.56 167.00,426.67 167.50,424.77 168.00,424.15 168.50,424.84 169.00,425.15 169.50,426.50 170.00,428.10 170.50,428.00 171.00,427.57 171.50,428.37 172.00,429.05 172.50,428.86 173.00,428.19 173.50,427.26 174.00,428.49 174.50,427.94 175.00,428.20 175.50,428.46 176.00,428.70 176.50,428.65 177.00,428.76 177.50,429.73 178.00,429.29 178.50,429.48 179.00,430.31 179.50,430.07 180.00,430.04 180.50,430.50 181.00,430.86 181.50,430.41 182.00,430.65 182.50,430.35 183.00,430.80 183.50,431.46 184.00,431.49 184.50,431.18 185.00,431.56 185.50,430.58 186.00,431.31 186.50,430.72 187.00,431.83 187.50,431.93 188.00,432.10 188.50,432.05 189.00,432.12 189.50,432.61 190.00,432.12 190.50,432.32 191.00,431.82 191.50,432.49 192.00,432.98 192.50,433.19 193.00,433.55 193.50,433.83 194.00,435.01 194.50,435.19 195.00,434.97 195.50,434.55 196.00,434.09 196.50,434.23 197.00,434.19 197.50,434.75 198.00,434.37 198.50,434.06 199.00,434.19 199.50,434.71 200.00,434.73 200.50,435.10 201.00,434.49 201.50,434.58 202.00,434.79 202.50,435.22 203.00,435.58 203.50,436.03 204.00,435.33 204.50,435.09 205.00,434.88 205.50,435.93 206.00,435.71 206.50,435.62 207.00,435.58 207.50,436.24 208.00,436.10 208.50,435.70 209.00,435.73 209.50,435.44 210.00,435.75 210.50,436.47 211.00,436.27 211.50,436.04 212.00,435.64 212.50,436.03 213.00,436.81 213.50,435.78 214.00,435.20 214.50,436.20 215.00,436.20 215.50,435.77 216.00,435.61 216.50,435.79 217.00,436.09 217.50,435.40 218.00,436.20 218.50,435.54 219.00,435.30 219.50,434.87 220.00,435.05 220.50,435.26 221.00,435.41 221.50,435.50 222.00,436.04 222.50,436.48 223.00,436.31 223.50,436.06 224.00,436.59 224.50,436.69 225.00,436.23 225.50,435.99 226.00,435.86 226.50,435.46 227.00,435.77 227.50,435.01 228.00,435.67 228.50,434.52 229.00,434.07 229.50,434.10 230.00,435.24 230.50,435.34 231.00,434.50 231.50,434.64 232.00,435.34 232.50,435.63 233.00,435.47 233.50,435.15 234.00,434.75 234.50,435.27 235.00,435.21 235.50,434.71 236.00,434.83 236.50,435.05 237.00,434.30 237.50,433.90 238.00,433.81 238.50,434.34 239.00,434.05 239.50,434.49 240.00,434.33" fill="none" stroke="#0000ee" stroke-width="2.9" stroke-linejoin="round"/>
<polyline points="73.00,443.32 73.50,443.52 74.00,443.23 74.50,443.42 75.00,443.80 75.50,443.79 76.00,444.31 76.50,443.52 77.00,443.47 77.50,443.10 78.00,442.84 78.50,442.96 79.00,443.21 79.50,443.45 80.00,443.64 80.50,444.53 81.00,444.44 81.50,443.29 82.00,443.41 82.50,443.11 83.00,442.98 83.50,443.72 84.00,443.48 84.50,442.56 85.00,443.03 85.50,443.04 86.00,442.64 86.50,442.53 87.00,442.59 87.50,442.90 88.00,442.90 88.50,443.13 89.00,444.07 89.50,443.44 90.00,443.06 90.50,443.05 91.00,443.62 91.50,443.14 92.00,443.80 92.50,442.95 93.00,442.55 93.50,442.73 94.00,442.46 94.50,442.39 95.00,442.81 95.50,443.17 96.00,443.10 96.50,442.86 97.00,443.44 97.50,443.34 98.00,442.98 98.50,443.40 99.00,442.68 99.50,442.71 100.00,442.94 100.50,442.82 101.00,442.51 101.50,442.74 102.00,442.49 102.50,442.33 103.00,442.05 103.50,442.93 104.00,442.64 104.50,443.24 105.00,443.26 105.50,443.00 106.00,443.27 106.50,443.26 107.00,443.20 107.50,442.49 108.00,442.73 108.50,443.25 109.00,443.39 109.50,443.72 110.00,444.14 110.50,443.92 111.00,444.50 111.50,443.29 112.00,443.14 112.50,442.04 113.00,442.89 113.50,443.08 114.00,443.92 114.50,443.51 115.00,442.53 115.50,443.38 116.00,442.71 116.50,442.32 117.00,442.57 117.50,443.07 118.00,442.84 118.50,443.01 119.00,442.17 119.50,443.28 120.00,443.12 120.50,443.10 121.00,443.29 121.50,443.20 122.00,443.15 122.50,442.60 123.00,442.62 123.50,442.88 124.00,443.29 124.50,443.00 125.00,442.91 125.50,442.96 126.00,443.08 126.50,442.97 127.00,442.69 127.50,442.47 128.00,443.09 128.50,443.10 129.00,443.01 129.50,444.52 130.00,444.28 130.50,444.14 131.00,443.76 131.50,443.02 132.00,443.57 132.50,443.36 133.00,443.32 133.50,443.75 134.00,444.02 134.50,443.85 135.00,443.66 135.50,444.36 136.00,444.05 136.50,443.10 137.00,443.29 137.50,443.10 138.00,442.88 138.50,443.01 139.00,442.84 139.50,443.49 140.00,443.03 140.50,442.74 141.00,442.93 141.50,442.34 142.00,442.89 142.50,442.81 143.00,443.39 143.50,442.91 144.00,443.27 144.50,442.65 145.00,442.88 145.50,443.30 146.00,443.84 146.50,444.91 147.00,445.57 147.50,444.92 148.00,444.99 148.50,446.14 149.00,446.66 149.50,446.36 150.00,447.22 150.50,447.20 151.00,447.52 151.50,447.72 152.00,448.50 152.50,450.29 153.00,450.54 153.50,450.47 154.00,451.68 154.50,451.14 155.00,451.03 155.50,450.99 156.00,451.35 156.50,451.31 157.00,452.16 157.50,451.95 158.00,452.29 158.50,452.41 159.00,452.08 159.50,451.90 160.00,452.28 160.50,451.57 161.00,452.26 161.50,452.78 162.00,453.14 162.50,453.24 163.00,453.52 163.50,453.39 164.00,453.78 164.50,453.02 165.00,453.73 165.50,453.37 166.00,453.79 166.50,453.64 167.00,453.60 167.50,453.43 168.00,454.31 168.50,453.77 169.00,453.41 169.50,453.86 170.00,454.18 170.50,454.29 171.00,453.93 171.50,453.88 172.00,454.57 172.50,454.14 173.00,454.64 173.50,455.02 174.00,455.00 174.50,454.41 175.00,455.48 175.50,455.33 176.00,455.25 176.50,454.94 177.00,454.50 177.50,454.54 178.00,454.78 178.50,454.45 179.00,454.68 179.50,455.29 180.00,455.33 180.50,455.11 181.00,455.50 181.50,455.67 182.00,455.77 182.50,455.07 183.00,454.19 183.50,454.83 184.00,454.89 184.50,454.73 185.00,455.01 185.50,454.77 186.00,454.54 186.50,455.50 187.00,454.55 187.50,455.06 188.00,455.45 188.50,456.03 189.00,455.69 189.50,455.60 190.00,454.91 190.50,454.92 191.00,453.97 191.50,454.09 192.00,454.40 192.50,454.56 193.00,454.48 193.50,455.17 194.00,454.35 194.50,454.63 195.00,454.56 195.50,454.71 196.00,454.81 196.50,455.72 197.00,454.92 197.50,455.51 198.00,455.90 198.50,455.44 199.00,454.95 199.50,454.38 200.00,454.20 200.50,455.40 201.00,454.23 201.50,454.70 202.00,454.47 202.50,455.49 203.00,455.40 203.50,454.60 204.00,454.49 204.50,454.74 205.00,454.86 205.50,454.45 206.00,454.51 206.50,454.46 207.00,454.85 207.50,455.00 208.00,455.06 208.50,454.73 209.00,455.15 209.50,454.80 210.00,454.47 210.50,454.45 211.00,454.49 211.50,454.51 212.00,453.80 212.50,454.85 213.00,455.15 213.50,455.64 214.00,455.17 214.50,455.40 215.00,455.29 215.50,455.15 216.00,455.85 216.50,455.21 217.00,455.34 217.50,454.39 218.00,454.85 218.50,454.79 219.00,454.38 219.50,454.32 220.00,453.61 220.50,453.65 221.00,454.23 221.50,453.31 222.00,454.43 222.50,455.06 223.00,454.66 223.50,454.09 224.00,453.79 224.50,453.66 225.00,453.82 225.50,455.23 226.00,454.59 226.50,455.05 227.00,455.55 227.50,454.87 228.00,454.76 228.50,455.12 229.00,454.74 229.50,455.36 230.00,456.14 230.50,455.62 231.00,454.97 231.50,455.21 232.00,455.24 232.50,454.77 233.00,454.76 233.50,454.85 234.00,455.10 234.50,455.53 235.00,455.06 235.50,454.41 236.00,453.88 236.50,455.12 237.00,454.85 237.50,454.68 238.00,455.88 238.50,455.99 239.00,456.56 239.50,455.82 240.00,455.14" fill="none" stroke="#ee0000" stroke-width="2.9" stroke-linejoin="round"/>
<polyline points="73.00,460.77 73.50,460.51 74.00,461.20 74.50,460.29 75.00,460.73 75.50,460.07 76.00,461.20 76.50,461.49 77.00,462.21 77.50,461.82 78.00,462.01 78.50,461.83 79.00,461.55 79.50,461.79 80.00,461.32 80.50,461.47 81.00,462.05 81.50,462.13 82.00,461.98 82.50,463.09 83.00,462.81 83.50,462.37 84.00,462.46 84.50,462.23 85.00,462.17 85.50,462.17 86.00,463.26 86.50,463.03 87.00,462.98 87.50,463.19 88.00,463.94 88.50,463.40 89.00,462.92 89.50,464.04 90.00,462.94 90.50,462.74 91.00,463.08 91.50,464.01 92.00,463.10 92.50,461.89 93.00,462.54 93.50,462.40 94.00,462.36 94.50,462.72 95.00,462.82 95.50,462.91 96.00,462.63 96.50,463.23 97.00,463.68 97.50,463.28 98.00,462.82 98.50,463.07 99.00,463.09 99.50,462.42 100.00,462.27 100.50,462.86 101.00,462.69 101.50,462.47 102.00,462.58 102.50,462.53 103.00,462.51 103.50,461.62 104.00,462.74 104.50,462.71 105.00,462.20 105.50,462.72 106.00,462.73 106.50,462.59 107.00,462.97 107.50,463.74 108.00,463.42 108.50,463.69 109.00,464.11 109.50,462.92 110.00,462.42 110.50,462.69 111.00,461.73 111.50,461.79 112.00,462.51 112.50,462.83 113.00,462.80 113.50,461.66 114.00,462.87 114.50,462.79 115.00,462.82 115.50,462.71 116.00,461.63 116.50,461.11 117.00,460.88 117.50,462.15 118.00,461.66 118.50,461.62 119.00,461.58 119.50,461.92 120.00,462.08 120.50,462.01 121.00,461.25 121.50,459.91 122.00,460.57 122.50,460.98 123.00,461.62 123.50,461.38 124.00,460.97 124.50,461.15 125.00,460.35 125.50,460.06 126.00,459.88 126.50,460.32 127.00,461.36 127.50,461.36 128.00,461.49 128.50,461.32 129.00,461.39 129.50,461.19 130.00,461.24 130.50,460.39 131.00,460.52 131.50,460.65 132.00,461.77 132.50,462.45 133.00,463.16 133.50,463.87 134.00,463.54 134.50,464.04 135.00,464.84 135.50,464.37 136.00,464.61 136.50,464.23 137.00,463.37 137.50,463.67 138.00,463.45 138.50,463.77 139.00,463.73 139.50,464.01 140.00,463.05 140.50,464.36 141.00,464.81 141.50,464.30 142.00,463.73 142.50,463.79 143.00,464.11 143.50,464.18 144.00,464.21 144.50,463.14 145.00,462.87 145.50,463.81 146.00,463.86 146.50,463.09 147.00,462.91 147.50,462.53 148.00,462.49 148.50,463.27 149.00,462.99 149.50,463.33 150.00,463.02 150.50,462.21 151.00,463.08 151.50,465.34 152.00,465.70 152.50,466.17 153.00,468.86 153.50,471.37 154.00,474.53 154.50,479.40 155.00,482.54 155.50,483.38 156.00,483.40 156.50,483.46 157.00,483.96 157.50,485.37 158.00,485.81 158.50,485.42 159.00,485.32 159.50,486.49 160.00,486.98 160.50,486.33 161.00,487.57 161.50,487.06 162.00,486.39 162.50,486.50 163.00,487.08 163.50,487.75 164.00,487.91 164.50,487.36 165.00,486.99 165.50,486.38 166.00,486.67 166.50,486.62 167.00,487.00 167.50,486.55 168.00,486.65 168.50,486.57 169.00,486.39 169.50,486.31 170.00,486.36 170.50,486.34 171.00,487.15 171.50,487.44 172.00,486.98 172.50,487.58 173.00,487.85 173.50,488.57 174.00,488.27 174.50,488.10 175.00,487.80 175.50,488.00 176.00,488.28 176.50,488.31 177.00,488.14 177.50,488.41 178.00,488.37 178.50,488.42 179.00,487.91 179.50,488.13 180.00,487.72 180.50,487.55 181.00,487.91 181.50,489.03 182.00,489.20 182.50,488.85 183.00,488.56 183.50,488.93 184.00,489.34 184.50,489.51 185.00,488.98 185.50,488.83 186.00,488.51 186.50,488.35 187.00,487.99 187.50,488.06 188.00,487.23 188.50,487.18 189.00,487.90 189.50,487.72 190.00,488.29 190.50,487.79 191.00,487.93 191.50,488.36 192.00,487.97 192.50,487.89 193.00,489.32 193.50,488.72 194.00,488.36 194.50,488.22 195.00,488.41 195.50,488.51 196.00,489.04 196.50,489.27 197.00,488.87 197.50,488.65 198.00,488.04 198.50,487.64 199.00,487.76 199.50,488.51 200.00,488.69 200.50,489.11 201.00,489.44 201.50,489.13 202.00,489.99 202.50,489.31 203.00,488.86 203.50,488.68 204.00,489.31 204.50,489.10 205.00,488.70 205.50,489.01 206.00,489.52 206.50,489.26 207.00,489.05 207.50,489.34 208.00,489.34 208.50,489.23 209.00,488.29 209.50,488.11 210.00,487.94 210.50,486.75 211.00,487.32 211.50,487.06 212.00,486.61 212.50,487.44 213.00,486.98 213.50,486.42 214.00,486.40 214.50,486.69 215.00,487.00 215.50,486.80 216.00,486.32 216.50,486.12 217.00,485.97 217.50,485.78 218.00,486.16 218.50,486.18 219.00,486.46 219.50,486.24 220.00,486.10 220.50,486.35 221.00,486.44 221.50,487.19 222.00,486.72 222.50,486.96 223.00,487.00 223.50,486.46 224.00,487.09 224.50,487.22 225.00,486.28 225.50,486.97 226.00,487.55 226.50,487.12 227.00,488.01 227.50,487.86 228.00,487.20 228.50,487.61 229.00,487.46 229.50,486.94 230.00,486.27 230.50,486.99 231.00,487.00 231.50,487.65 232.00,487.95 232.50,487.73 233.00,487.62 233.50,488.63 234.00,489.23 234.50,489.17 235.00,488.64 235.50,488.06 236.00,488.01 236.50,488.94 237.00,488.97 237.50,488.66 238.00,488.07 238.50,488.37 239.00,488.09 239.50,488.30 240.00,488.76" fill="none" stroke="#000" stroke-width="2.9" stroke-linejoin="round"/>
<text x="121.5" y="372.5" font-size="9.4" fill="#222" text-anchor="end" textLength="21.5" lengthAdjust="spacingAndGlyphs" >52 fM</text>
<rect x="125.8" y="363.7" width="2.0" height="5.5" fill="#22cc22" />
<polygon points="123.70,368.60 129.90,368.60 126.80,373.70" fill="#22cc22" stroke="none" stroke-width="1" />
<text x="121.5" y="392.1" font-size="9.4" fill="#222" text-anchor="end" textLength="21.1" lengthAdjust="spacingAndGlyphs" >70 fM</text>
<rect x="125.8" y="383.3" width="2.0" height="5.5" fill="#22cc22" />
<polygon points="123.70,388.20 129.90,388.20 126.80,393.30" fill="#22cc22" stroke="none" stroke-width="1" />
<text x="121.5" y="412.3" font-size="9.4" fill="#222" text-anchor="end" textLength="24.4" lengthAdjust="spacingAndGlyphs" >100 fM</text>
<rect x="125.8" y="403.5" width="2.0" height="5.5" fill="#22cc22" />
<polygon points="123.70,408.40 129.90,408.40 126.80,413.50" fill="#22cc22" stroke="none" stroke-width="1" />
<text x="121.5" y="436.5" font-size="9.4" fill="#222" text-anchor="end" textLength="23.7" lengthAdjust="spacingAndGlyphs" >300 fM</text>
<rect x="125.8" y="427.7" width="2.0" height="5.5" fill="#22cc22" />
<polygon points="123.70,432.60 129.90,432.60 126.80,437.70" fill="#22cc22" stroke="none" stroke-width="1" />
<text x="121.5" y="456.3" font-size="9.4" fill="#222" text-anchor="end" textLength="23.0" lengthAdjust="spacingAndGlyphs" >500 fM</text>
<rect x="125.8" y="447.5" width="2.0" height="5.5" fill="#22cc22" />
<polygon points="123.70,452.40 129.90,452.40 126.80,457.50" fill="#22cc22" stroke="none" stroke-width="1" />
<polygon points="349.50,324.40 382.00,316.80 416.80,324.40 382.80,330.40" fill="#8e8e8e" stroke="none" stroke-width="1" />
<path d="M363.5,312.3 C362.0,320 368.5,325.5 372.5,323.9 C375.5,323 379.0,321 380.5,318.8" fill="none" stroke="#ed7d31" stroke-width="1.8" />
<path d="M390.1,312.3 C388.6,320 395.1,325.5 399.1,323.9 C402.1,323 405.5,321 407.0,318.8" fill="none" stroke="#ed7d31" stroke-width="1.8" />
<text x="339.4" y="306.0" font-size="11.0" font-weight="bold" stroke="#000" stroke-width="0.25" fill="#000" text-anchor="start" textLength="18.9" lengthAdjust="spacingAndGlyphs" >TCA</text>
<line x1="351.0" y1="308.0" x2="360.8" y2="314.2" stroke="#444" stroke-width="0.6" />
<text x="396.0" y="278.9" font-size="10.6" font-weight="bold" stroke="#000" stroke-width="0.25" fill="#000" text-anchor="start" textLength="11.9" lengthAdjust="spacingAndGlyphs" >Cu</text>
<text x="408.5" y="275.4" font-size="7.2" font-weight="bold" stroke="#000" stroke-width="0.25" fill="#000" text-anchor="start" textLength="7.8" lengthAdjust="spacingAndGlyphs" >2+</text>
<defs><radialGradient id="gs" cx="0.5" cy="0.5" r="0.55"><stop offset="0" stop-color="#dcf2d0"/><stop offset="0.55" stop-color="#a8da8a"/><stop offset="1" stop-color="#74bc52"/></radialGradient></defs>
<ellipse cx="401.7" cy="288.3" rx="6.3" ry="5.3" fill="url(#gs)"/>
<line x1="397.7" y1="294.8" x2="391.6" y2="304.4" stroke="#444" stroke-width="0.6" />
<polygon points="391.00,305.40 391.00,302.60 393.00,303.60" fill="#444" stroke="none" stroke-width="1" />
<text x="366.2" y="339.1" font-size="11.0" font-weight="bold" stroke="#000" stroke-width="0.25" fill="#000" text-anchor="start" textLength="47.2" lengthAdjust="spacingAndGlyphs" >Graphene</text>
<polygon points="426.80,323.90 459.30,317.80 494.10,323.90 459.30,330.20" fill="#8e8e8e" stroke="none" stroke-width="1" />
<ellipse cx="437.4" cy="323.4" rx="1.8" ry="1.4" fill="none" stroke="#6a7ad0" stroke-width="0.6"/>
<ellipse cx="446.5" cy="327.2" rx="1.8" ry="1.4" fill="none" stroke="#6a7ad0" stroke-width="0.6"/>
<ellipse cx="459.3" cy="327.2" rx="1.8" ry="1.4" fill="none" stroke="#6a7ad0" stroke-width="0.6"/>
<ellipse cx="462.3" cy="321.2" rx="1.8" ry="1.4" fill="none" stroke="#6a7ad0" stroke-width="0.6"/>
<ellipse cx="472.2" cy="327.2" rx="1.8" ry="1.4" fill="none" stroke="#6a7ad0" stroke-width="0.6"/>
<ellipse cx="483.5" cy="326.0" rx="1.8" ry="1.4" fill="none" stroke="#6a7ad0" stroke-width="0.6"/>
<circle cx="449.5" cy="317.6" r="6.0" fill="url(#gs)"/>
<circle cx="472.2" cy="318.0" r="6.0" fill="url(#gs)"/>
<path d="M441.4,312.0 C440.5,319 444,324.5 449.5,324.4 C452.5,324.3 455,323 456.6,321.0" fill="none" stroke="#3060c0" stroke-width="1.5" />
<path d="M465.4,312.0 C464.5,319 468,324.5 473.5,324.4 C477.5,324.3 480.5,322 482.2,318.8" fill="none" stroke="#3060c0" stroke-width="1.5" />
<line x1="310.0" y1="356.5" x2="520.8" y2="356.5" stroke="#7a7a7a" stroke-width="1.2" />
<line x1="520.8" y1="356.5" x2="520.8" y2="487.0" stroke="#7a7a7a" stroke-width="1.2" />
<line x1="520.8" y1="487.0" x2="520.8" y2="506.0" stroke="#c8c8c8" stroke-width="1.0" />
<line x1="310.0" y1="355.9" x2="310.0" y2="506.6" stroke="#555" stroke-width="1.2" />
<line x1="309.4" y1="506.0" x2="521.4" y2="506.0" stroke="#555" stroke-width="1.2" />
<line x1="310.0" y1="501.25" x2="311.6" y2="501.25" stroke="#555" stroke-width="1" />
<line x1="310.0" y1="490.1" x2="313.2" y2="490.1" stroke="#555" stroke-width="1" />
<line x1="310.0" y1="478.95000000000005" x2="311.6" y2="478.95000000000005" stroke="#555" stroke-width="1" />
<line x1="310.0" y1="467.8" x2="313.2" y2="467.8" stroke="#555" stroke-width="1" />
<line x1="310.0" y1="456.65000000000003" x2="311.6" y2="456.65000000000003" stroke="#555" stroke-width="1" />
<line x1="310.0" y1="445.5" x2="313.2" y2="445.5" stroke="#555" stroke-width="1" />
<line x1="310.0" y1="434.35" x2="311.6" y2="434.35" stroke="#555" stroke-width="1" />
<line x1="310.0" y1="423.20000000000005" x2="313.2" y2="423.20000000000005" stroke="#555" stroke-width="1" />
<line x1="310.0" y1="412.05" x2="311.6" y2="412.05" stroke="#555" stroke-width="1" />
<line x1="310.0" y1="400.90000000000003" x2="313.2" y2="400.90000000000003" stroke="#555" stroke-width="1" />
<line x1="310.0" y1="389.75" x2="311.6" y2="389.75" stroke="#555" stroke-width="1" />
<line x1="310.0" y1="378.6" x2="313.2" y2="378.6" stroke="#555" stroke-width="1" />
<line x1="310.0" y1="367.45000000000005" x2="311.6" y2="367.45000000000005" stroke="#555" stroke-width="1" />
<line x1="310.0" y1="356.3" x2="313.2" y2="356.3" stroke="#555" stroke-width="1" />
<text x="299.3" y="471.88" font-size="9.0" font-weight="bold" stroke="#000" stroke-width="0.25" fill="#000" text-anchor="end" >100</text>
<text x="299.3" y="449.85999999999996" font-size="9.0" font-weight="bold" stroke="#000" stroke-width="0.25" fill="#000" text-anchor="end" >200</text>
<text x="299.3" y="427.84" font-size="9.0" font-weight="bold" stroke="#000" stroke-width="0.25" fill="#000" text-anchor="end" >300</text>
<text x="299.3" y="405.82" font-size="9.0" font-weight="bold" stroke="#000" stroke-width="0.25" fill="#000" text-anchor="end" >400</text>
<text x="299.3" y="383.79999999999995" font-size="9.0" font-weight="bold" stroke="#000" stroke-width="0.25" fill="#000" text-anchor="end" >500</text>
<text x="299.3" y="361.78" font-size="9.0" font-weight="bold" stroke="#000" stroke-width="0.25" fill="#000" text-anchor="end" >600</text>
<text x="296.2" y="493.9" font-size="9.0" font-weight="bold" stroke="#000" stroke-width="0.25" fill="#000" text-anchor="end" >0</text>
<line x1="329.0" y1="506.0" x2="329.0" y2="503.5" stroke="#555" stroke-width="1" />
<line x1="348.2" y1="506.0" x2="348.2" y2="504.5" stroke="#555" stroke-width="1" />
<line x1="367.4" y1="506.0" x2="367.4" y2="503.5" stroke="#555" stroke-width="1" />
<line x1="386.6" y1="506.0" x2="386.6" y2="504.5" stroke="#555" stroke-width="1" />
<line x1="405.8" y1="506.0" x2="405.8" y2="503.5" stroke="#555" stroke-width="1" />
<line x1="425.0" y1="506.0" x2="425.0" y2="504.5" stroke="#555" stroke-width="1" />
<line x1="444.2" y1="506.0" x2="444.2" y2="503.5" stroke="#555" stroke-width="1" />
<text x="330.6" y="522.8" font-size="9.0" font-weight="bold" stroke="#000" stroke-width="0.25" fill="#000" text-anchor="middle" >0</text>
<text x="366.9" y="522.8" font-size="9.0" font-weight="bold" stroke="#000" stroke-width="0.25" fill="#000" text-anchor="middle" >50</text>
<text x="403.3" y="522.8" font-size="9.0" font-weight="bold" stroke="#000" stroke-width="0.25" fill="#000" text-anchor="middle" >100</text>
<text x="444.2" y="522.8" font-size="9.0" font-weight="bold" stroke="#000" stroke-width="0.25" fill="#000" text-anchor="middle" >150</text>
<text x="485.1" y="522.8" font-size="9.0" font-weight="bold" stroke="#000" stroke-width="0.25" fill="#000" text-anchor="middle" >200</text>
<text x="368.5" y="540.9" font-size="11.6" font-weight="bold" stroke="#000" stroke-width="0.25" fill="#000" text-anchor="start" textLength="61.8" lengthAdjust="spacingAndGlyphs" >Time (min)</text>
<text transform="translate(271.4,503.3) rotate(-90)" font-size="13" font-weight="bold" fill="#000" stroke="#000" stroke-width="0.25" textLength="140.8" lengthAdjust="spacingAndGlyphs">Voltage shift at V<tspan dy="3" font-size="8">DP</tspan><tspan dy="-3"> (mV)</tspan></text>
<rect x="327.0" y="488.7" width="3.0" height="3.0" fill="#000" />
<rect x="329.9" y="488.85" width="3.0" height="3.0" fill="#000" />
<rect x="332.8" y="489.01" width="3.0" height="3.0" fill="#000" />
<rect x="335.7" y="489.19" width="3.0" height="3.0" fill="#000" />
<rect x="338.6" y="489.42" width="3.0" height="3.0" fill="#000" />
<rect x="341.5" y="489.64" width="3.0" height="3.0" fill="#000" />
<rect x="344.4" y="489.76" width="3.0" height="3.0" fill="#000" />
<rect x="347.3" y="489.64" width="3.0" height="3.0" fill="#000" />
<rect x="350.2" y="489.51" width="3.0" height="3.0" fill="#000" />
<rect x="353.1" y="489.37" width="3.0" height="3.0" fill="#000" />
<rect x="356.0" y="489.23" width="3.0" height="3.0" fill="#000" />
<rect x="358.9" y="489.07" width="3.0" height="3.0" fill="#000" />
<rect x="361.8" y="488.87" width="3.0" height="3.0" fill="#000" />
<rect x="364.7" y="488.67" width="3.0" height="3.0" fill="#000" />
<rect x="367.6" y="488.46" width="3.0" height="3.0" fill="#000" />
<rect x="370.5" y="488.49" width="3.0" height="3.0" fill="#000" />
<rect x="373.4" y="488.62" width="3.0" height="3.0" fill="#000" />
<rect x="376.3" y="488.75" width="3.0" height="3.0" fill="#000" />
<rect x="379.2" y="488.76" width="3.0" height="3.0" fill="#000" />
<rect x="382.1" y="488.66" width="3.0" height="3.0" fill="#000" />
<rect x="385.0" y="488.23" width="3.0" height="3.0" fill="#000" />
<rect x="387.9" y="487.8" width="3.0" height="3.0" fill="#000" />
<rect x="390.8" y="487.7" width="3.0" height="3.0" fill="#000" />
<rect x="393.7" y="487.7" width="3.0" height="3.0" fill="#000" />
<rect x="396.6" y="487.7" width="3.0" height="3.0" fill="#000" />
<rect x="399.5" y="487.72" width="3.0" height="3.0" fill="#000" />
<rect x="402.4" y="487.76" width="3.0" height="3.0" fill="#000" />
<rect x="407.4" y="485.7" width="3.0" height="3.0" fill="#000" />
<rect x="410.1" y="483.7" width="3.0" height="3.0" fill="#000" />
<rect x="413.2" y="483.7" width="3.0" height="3.0" fill="#000" />
<rect x="416.3" y="483.7" width="3.0" height="3.0" fill="#000" />
<rect x="419.4" y="483.7" width="3.0" height="3.0" fill="#000" />
<rect x="422.5" y="483.7" width="3.0" height="3.0" fill="#000" />
<rect x="426.6" y="482.7" width="3.0" height="3.0" fill="#000" />
<rect x="430.8" y="478.7" width="3.0" height="3.0" fill="#000" />
<rect x="434.3" y="472.6" width="3.0" height="3.0" fill="#000" />
<rect x="436.85" y="472.46" width="3.0" height="3.0" fill="#000" />
<rect x="439.4" y="472.32" width="3.0" height="3.0" fill="#000" />
<rect x="441.95" y="472.18" width="3.0" height="3.0" fill="#000" />
<rect x="444.5" y="472.04" width="3.0" height="3.0" fill="#000" />
<rect x="447.05" y="471.9" width="3.0" height="3.0" fill="#000" />
<rect x="449.6" y="471.76" width="3.0" height="3.0" fill="#000" />
<rect x="453.9" y="466.9" width="3.0" height="3.0" fill="#000" />
<rect x="458.2" y="452.5" width="3.0" height="3.0" fill="#000" />
<rect x="461.5" y="445.1" width="3.0" height="3.0" fill="#000" />
<rect x="464.45" y="445.1" width="3.0" height="3.0" fill="#000" />
<rect x="467.4" y="445.1" width="3.0" height="3.0" fill="#000" />
<rect x="470.35" y="445.1" width="3.0" height="3.0" fill="#000" />
<rect x="480.2" y="367.5" width="3.0" height="3.0" fill="#000" />
<rect x="484.9" y="385.3" width="3.0" height="3.0" fill="#000" />
<rect x="488.6" y="391.7" width="3.0" height="3.0" fill="#000" />
<rect x="492.5" y="390.9" width="3.0" height="3.0" fill="#000" />
<text x="325.7" y="451.2" font-size="9.0" font-weight="bold" stroke="#000" stroke-width="0.25" fill="#000" text-anchor="start" textLength="20.8" lengthAdjust="spacingAndGlyphs" >0 µM</text>
<text x="344.6" y="470.3" font-size="9.0" font-weight="bold" stroke="#000" stroke-width="0.25" fill="#000" text-anchor="start" textLength="20.8" lengthAdjust="spacingAndGlyphs" >1 µM</text>
<text x="369.5" y="458.0" font-size="9.0" font-weight="bold" stroke="#000" stroke-width="0.25" fill="#000" text-anchor="start" textLength="25.7" lengthAdjust="spacingAndGlyphs" >10 µM</text>
<text x="384.7" y="444.2" font-size="9.0" font-weight="bold" stroke="#000" stroke-width="0.25" fill="#000" text-anchor="start" textLength="26.0" lengthAdjust="spacingAndGlyphs" >30 µM</text>
<text x="406.4" y="424.9" font-size="9.0" font-weight="bold" stroke="#000" stroke-width="0.25" fill="#000" text-anchor="start" textLength="31.3" lengthAdjust="spacingAndGlyphs" >100 µM</text>
<text x="440.7" y="408.3" font-size="9.0" font-weight="bold" stroke="#000" stroke-width="0.25" fill="#000" text-anchor="start" textLength="31.1" lengthAdjust="spacingAndGlyphs" >300 µM</text>
<text x="476.3" y="473.2" font-size="9.0" font-weight="bold" stroke="#000" stroke-width="0.25" fill="#000" text-anchor="start" textLength="23.7" lengthAdjust="spacingAndGlyphs" >1 mM</text>
<line x1="327.0" y1="458.0" x2="327.0" y2="483.3" stroke="#555" stroke-width="0.7" />
<polygon points="325.50,482.80 328.50,482.80 327.00,485.80" fill="#333" stroke="none" stroke-width="1" />
<line x1="348.4" y1="476.3" x2="348.4" y2="484.2" stroke="#555" stroke-width="0.7" />
<polygon points="346.90,483.70 349.90,483.70 348.40,486.70" fill="#333" stroke="none" stroke-width="1" />
<line x1="375.2" y1="465.0" x2="375.2" y2="484.2" stroke="#555" stroke-width="0.7" />
<polygon points="373.70,483.70 376.70,483.70 375.20,486.70" fill="#333" stroke="none" stroke-width="1" />
<line x1="401.7" y1="463.0" x2="401.7" y2="483.3" stroke="#555" stroke-width="0.7" />
<polygon points="400.20,482.80 403.20,482.80 401.70,485.80" fill="#333" stroke="none" stroke-width="1" />
<line x1="424.9" y1="432.5" x2="424.9" y2="475.8" stroke="#555" stroke-width="0.7" />
<polygon points="423.40,475.30 426.40,475.30 424.90,478.30" fill="#333" stroke="none" stroke-width="1" />
<line x1="452.0" y1="416.5" x2="452.0" y2="462.5" stroke="#555" stroke-width="0.7" />
<polygon points="450.50,462.00 453.50,462.00 452.00,465.00" fill="#333" stroke="none" stroke-width="1" />
<line x1="474.0" y1="460.4" x2="474.0" y2="452.0" stroke="#888" stroke-width="0.7" />
<polygon points="472.50,452.50 475.50,452.50 474.00,449.50" fill="#888" stroke="none" stroke-width="1" />
<circle cx="335.1" cy="467.8" r="0.6" fill="#bbb"/>
<text x="469.7" y="500.3" font-size="8.8" font-weight="bold" stroke="#000" stroke-width="0.25" fill="#000" text-anchor="start" textLength="42.9" lengthAdjust="spacingAndGlyphs" >V<tspan dy="2" font-size="5.5">D</tspan><tspan dy="-2"> : 50 mV</tspan></text></svg>
</body></html>
